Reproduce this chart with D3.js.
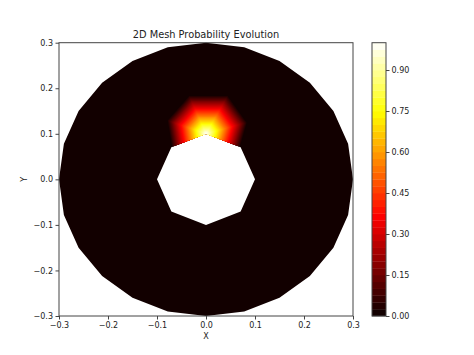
<!DOCTYPE html>
<html>
<head>
<meta charset="utf-8">
<script src="https://cdn.jsdelivr.net/npm/d3@7"></script>
<style>
  body { margin: 0; background: #fff; }
  text { font-family: "DejaVu Sans", sans-serif; fill: #222; }
</style>
</head>
<body>
<svg id="chart" width="474" height="355"></svg>
<script>
// outer boundary of the mesh (24 nodes, data units)
const outerX = [0.3, 0.29, 0.26, 0.212, 0.15, 0.078, 0, -0.078, -0.15, -0.212, -0.26, -0.29,
                -0.3, -0.29, -0.26, -0.212, -0.15, -0.078, 0, 0.078, 0.15, 0.212, 0.26, 0.29];
const outerY = [0, 0.078, 0.15, 0.212, 0.26, 0.29, 0.3, 0.29, 0.26, 0.212, 0.15, 0.078,
                0, -0.078, -0.15, -0.212, -0.26, -0.29, -0.3, -0.29, -0.26, -0.212, -0.15, -0.078];
// inner hole (octagon)
const innerX = [0.1, 0.0707, 0, -0.0707, -0.1, -0.0707, 0, 0.0707];
const innerY = [0, 0.0707, 0.1, 0.0707, 0, -0.0707, -0.1, -0.0707];

// peak node and the nodes around it (in order), with probability at each
const peakX = [0, -0.0707, -0.08, -0.035, 0.045, 0.085, 0.0707];
const peakY = [0.1, 0.0707, 0.13, 0.185, 0.185, 0.125, 0.0707];
const peakP = [1.0, 0, 0, 0, 0, 0, 0];

const xTicks = [-0.3, -0.2, -0.1, 0.0, 0.1, 0.2, 0.3];
const yTicks = [-0.3, -0.2, -0.1, 0.0, 0.1, 0.2, 0.3];
const cbTicks = [0, 0.15, 0.30, 0.45, 0.60, 0.75, 0.90];
const levels = d3.range(0, 1.0001, 0.025);

const svg = d3.select("#chart");
const margin = {left: 59, right: 121, top: 42.7, bottom: 39};
const W = 474, H = 355;

const x = d3.scaleLinear().domain([-0.3, 0.3]).range([margin.left, W - margin.right]);
const y = d3.scaleLinear().domain([-0.3, 0.3]).range([H - margin.bottom, margin.top]);

// matplotlib "hot"
const hot = d3.scaleLinear()
  .domain([0, 0.365079, 0.746032, 1])
  .range(["rgb(10,0,0)", "rgb(255,0,0)", "rgb(255,255,0)", "rgb(255,255,255)"])
  .interpolate(d3.interpolateRgb)
  .clamp(true);
const mids = levels.slice(0, -1).map((l, i) => (l + levels[i + 1]) / 2);

const ring = (xs, ys) => "M" + xs.map((d, i) => x(d) + "," + y(ys[i])).join("L") + "Z";

// lowest band fills the whole annulus
svg.append("path")
  .attr("d", ring(outerX, outerY) + ring(innerX, innerY))
  .attr("fill-rule", "evenodd")
  .attr("fill", hot(mids[0]));

// higher bands: region where value >= level, nested around the peak node
const g = svg.append("g");
for (let k = 1; k < levels.length - 1; k++) {
  const l = levels[k];
  const pts = [[x(peakX[0]), y(peakY[0])]];
  for (let i = 1; i < peakX.length; i++) {
    const t = (peakP[0] - l) / (peakP[0] - peakP[i]);
    pts.push([
      x(peakX[0] + t * (peakX[i] - peakX[0])),
      y(peakY[0] + t * (peakY[i] - peakY[0]))
    ]);
  }
  g.append("path")
    .attr("d", "M" + pts.join("L") + "Z")
    .attr("fill", hot(mids[k]));
}

// axes
const fs = 8;
const spine = "#444";
svg.append("g")
  .attr("transform", `translate(0,${H - margin.bottom})`)
  .call(d3.axisBottom(x).tickValues(xTicks).tickFormat(d3.format(".1f")).tickSize(3.5).tickPadding(2.5))
  .call(g => g.select(".domain").remove())
  .call(g => g.selectAll("line").attr("stroke", spine))
  .attr("font-size", fs).attr("font-family", "DejaVu Sans");

svg.append("g")
  .attr("transform", `translate(${margin.left},0)`)
  .call(d3.axisLeft(y).tickValues(yTicks).tickFormat(d3.format(".1f")).tickSize(3.5).tickPadding(2.5))
  .call(g => g.select(".domain").remove())
  .call(g => g.selectAll("line").attr("stroke", spine))
  .attr("font-size", fs).attr("font-family", "DejaVu Sans");

svg.append("rect")
  .attr("x", margin.left).attr("y", margin.top)
  .attr("width", W - margin.right - margin.left)
  .attr("height", H - margin.bottom - margin.top)
  .attr("fill", "none").attr("stroke", spine).attr("stroke-width", 1);

svg.append("text")
  .attr("x", (margin.left + W - margin.right) / 2).attr("y", 37.5)
  .attr("text-anchor", "middle").attr("font-size", 9.8)
  .text("2D Mesh Probability Evolution");

svg.append("text")
  .attr("x", (margin.left + W - margin.right) / 2).attr("y", 339)
  .attr("text-anchor", "middle").attr("font-size", fs)
  .text("X");

svg.append("text")
  .attr("transform", `translate(27,${(margin.top + H - margin.bottom) / 2}) rotate(-90)`)
  .attr("text-anchor", "middle").attr("font-size", fs)
  .text("Y");

// colorbar
const cbX = 372, cbW = 14;
const cb = d3.scaleLinear().domain([0, 1]).range([H - margin.bottom, margin.top]);
svg.append("g").selectAll("rect")
  .data(mids)
  .join("rect")
  .attr("x", cbX)
  .attr("y", (d, i) => cb(levels[i + 1]))
  .attr("width", cbW)
  .attr("height", (d, i) => cb(levels[i]) - cb(levels[i + 1]) + 0.3)
  .attr("fill", d => hot(d));

svg.append("rect")
  .attr("x", cbX).attr("y", margin.top)
  .attr("width", cbW).attr("height", H - margin.bottom - margin.top)
  .attr("fill", "none").attr("stroke", spine).attr("stroke-width", 1);

svg.append("g")
  .attr("transform", `translate(${cbX + cbW},0)`)
  .call(d3.axisRight(cb).tickValues(cbTicks).tickFormat(d3.format(".2f")).tickSize(3.5).tickPadding(2))
  .call(g => g.select(".domain").remove())
  .call(g => g.selectAll("line").attr("stroke", spine))
  .attr("font-size", fs).attr("font-family", "DejaVu Sans");
</script>
</body>
</html>
